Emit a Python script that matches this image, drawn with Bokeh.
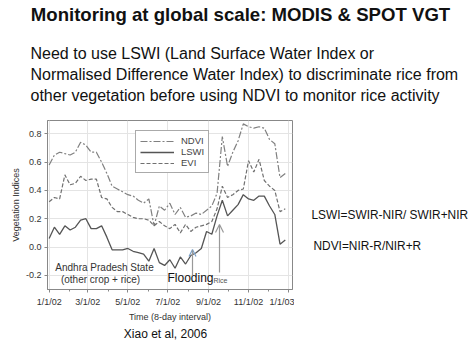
from bokeh.plotting import figure
from bokeh.layouts import column, row
from bokeh.models import (Range1d, FixedTicker, Label, Arrow, OpenHead, Legend, LegendItem)
from bokeh.embed import file_html
from bokeh.resources import INLINE

# ---- data (8-day composites through 2002; day 0 = 1 Jan 2002) ----
days = [8 * i for i in range(46)]
ndvi = [0.58, 0.65, 0.67, 0.66, 0.65, 0.67, 0.74, 0.72, 0.67, 0.67,
        0.60, 0.52, 0.43, 0.41, 0.39, 0.37, 0.36, 0.33, 0.31, 0.34,
        0.15, 0.29, 0.26, 0.31, 0.23, 0.28, 0.21, 0.22, 0.24, 0.23,
        0.26, 0.29, 0.38, 0.78, 0.57, 0.67, 0.75, 0.87, 0.85, 0.84,
        0.85, 0.84, 0.76, 0.73, 0.49, 0.52]
lswi = [0.06, 0.14, 0.09, 0.15, 0.12, 0.14, 0.19, 0.20, 0.13, 0.13,
        0.15, 0.07, -0.02, -0.02, -0.02, -0.01, -0.03, -0.04, -0.05, -0.10,
        -0.01, -0.11, -0.13, -0.09, -0.15, -0.07, -0.12, -0.06, -0.04, -0.01,
        0.11, 0.09, 0.22, 0.33, 0.22, 0.26, 0.30, 0.37, 0.34, 0.33,
        0.36, 0.36, 0.29, 0.23, 0.02, 0.05]
evi = [0.32, 0.35, 0.34, 0.51, 0.44, 0.45, 0.50, 0.47, 0.48, 0.48,
       0.35, 0.34, 0.28, 0.25, 0.25, 0.23, 0.21, 0.20, 0.20, 0.19,
       0.15, 0.18, 0.15, 0.13, 0.16, 0.10, 0.16, 0.11, 0.14, 0.15,
       0.16, 0.18, 0.27, 0.43, 0.35, 0.37, 0.40, 0.41, 0.61, 0.53,
       0.62, 0.47, 0.43, 0.40, 0.25, 0.27]
tick_days = [0, 59, 120, 181, 243, 304, 365]
tick_labels = ["1/1/02", "3/1/02", "5/1/02", "7/1/02", "9/1/02", "11/1/02", "1/1/03"]
month_days = [0, 31, 59, 90, 120, 151, 181, 212, 243, 273, 304, 334, 365]
y_ticks = [-0.2, 0.0, 0.2, 0.4, 0.6, 0.8]

FONT = "Liberation Sans"
W, H = 474, 355
TOP_H = 120          # text band above the chart
MID_B = 328          # bottom edge of chart row (canvas px)
CH_W = 294           # chart figure width
FL, FR = 47, 292     # frame left / right (canvas px)
FT, FB = 120, 289    # frame top / bottom (canvas px)
X0, X1 = -2.5, 371.0
Y0, Y1 = -0.3, 0.894


def text_fig(w, h, top=0, bottom=0):
    f = figure(width=w, height=h, output_backend="svg", toolbar_location=None,
               x_range=Range1d(0, w), y_range=Range1d(h - top - bottom, 0),
               min_border_left=0, min_border_right=0,
               min_border_top=top, min_border_bottom=bottom,
               x_axis_type=None, y_axis_type=None)
    f.xgrid.visible = False
    f.ygrid.visible = False
    f.outline_line_color = None
    f.background_fill_color = "white"
    f.border_fill_color = "white"
    return f


def put(f, x, y, text, size, bold=False, align="left", color="#111111"):
    f.add_layout(Label(x=x, y=y, text=text, text_font=FONT,
                       text_font_size=f"{size}px", text_color=color,
                       text_font_style="bold" if bold else "normal",
                       text_align=align, text_baseline="middle"))


# ---- top text band ----
top = text_fig(W, TOP_H)
put(top, 240, 14, "Monitoring at global scale: MODIS & SPOT VGT", 18.6, bold=True, align="center")
put(top, 30, 53, "Need to use LSWI (Land Surface Water Index or", 16)
put(top, 30, 74, "Normalised Difference Water Index) to discriminate rice from", 16)
put(top, 30, 95, "other vegetation before using NDVI to monitor rice activity", 16)

# ---- chart ----
mid_h = MID_B - TOP_H
p = figure(width=CH_W, height=mid_h, output_backend="svg", toolbar_location=None,
           x_range=Range1d(X0, X1), y_range=Range1d(Y0, Y1),
           min_border_left=FL, min_border_right=CH_W - FR,
           min_border_top=FT - TOP_H, min_border_bottom=MID_B - FB)
p.background_fill_color = "white"
p.border_fill_color = "white"
p.outline_line_color = "#888888"

p.xaxis.ticker = FixedTicker(ticks=tick_days, minor_ticks=month_days)
p.xaxis.major_label_overrides = {d: l for d, l in zip(tick_days, tick_labels)}
p.yaxis.ticker = FixedTicker(ticks=y_ticks)
p.yaxis.major_label_overrides = {v: f"{v:.1f}" for v in y_ticks}
for ax in (p.xaxis[0], p.yaxis[0]):
    ax.major_label_text_font = FONT
    ax.major_label_text_font_size = "9px"
    ax.major_label_text_color = "#333333"
    ax.axis_label_text_font = FONT
    ax.axis_label_text_font_size = "9px"
    ax.axis_label_text_font_style = "normal"
    ax.axis_label_text_color = "#333333"
    ax.axis_line_color = "#888888"
    ax.major_tick_line_color = "#888888"
    ax.minor_tick_line_color = "#888888"
    ax.major_tick_in = 0
    ax.major_tick_out = 3
    ax.minor_tick_in = 0
    ax.minor_tick_out = 2
    ax.axis_label_standoff = 2
p.xaxis.axis_label = "Time (8-day interval)"
p.yaxis.axis_label = "Vegetation Indices"
p.xaxis.major_label_standoff = 4
p.yaxis.major_label_standoff = 3
p.xgrid.grid_line_color = "#e4e4e4"
p.ygrid.grid_line_color = "#e4e4e4"

r_ndvi = p.line(days, ndvi, line_color="#808080", line_width=1.2, line_dash="7 2 2 2")
r_lswi = p.line(days, lswi, line_color="#555555", line_width=1.3)
r_evi = p.line(days, evi, line_color="#707070", line_width=1.2, line_dash="4 2")

legend = Legend(items=[LegendItem(label="NDVI", renderers=[r_ndvi]),
                       LegendItem(label="LSWI", renderers=[r_lswi]),
                       LegendItem(label="EVI", renderers=[r_evi])],
                location=(88, 116))
legend.label_text_font = FONT
legend.label_text_font_size = "9.5px"
legend.label_text_color = "#444444"
legend.glyph_width = 34
legend.glyph_height = 10
legend.label_height = 10
legend.spacing = 0
legend.padding = 4
legend.margin = 0
legend.label_standoff = 7
legend.border_line_color = "#555555"
legend.background_fill_alpha = 1.0
p.add_layout(legend)


def X(px):
    return X0 + (px - FL) / (FR - FL) * (X1 - X0)


def Y(py):
    return Y1 - (py - FT) / (FB - FT) * (Y1 - Y0)


put(p, X(104), Y(267), "Andhra Pradesh State", 10, align="center", color="#333333")
put(p, X(100), Y(279), "(other crop + rice)", 10, align="center", color="#333333")
put(p, X(167), Y(277), "Flooding", 12)
put(p, X(213), Y(280), "Rice", 7, color="#555555")

p.add_layout(Arrow(end=OpenHead(size=7, line_color="#7aa0c8", line_width=1.2),
                   x_start=X(192), y_start=Y(275), x_end=X(192), y_end=Y(249),
                   line_color="#999999", line_width=1.2))
p.add_layout(Arrow(end=OpenHead(size=8, line_color="#999999", line_width=1.2),
                   x_start=X(219), y_start=Y(272), x_end=X(219), y_end=Y(224),
                   line_color="#999999", line_width=1.2))

# ---- right text band (frame matches the chart frame: canvas y 120..289) ----
right = text_fig(W - CH_W, mid_h, top=FT - TOP_H, bottom=MID_B - FB)
put(right, 311 - CH_W, 214 - FT, "LSWI=SWIR-NIR/ SWIR+NIR", 11.9)
put(right, 313 - CH_W, 245 - FT, "NDVI=NIR-R/NIR+R", 11.9)

# ---- bottom caption ----
bot = text_fig(W, H - MID_B)
put(bot, 165, 333 - MID_B, "Xiao et al, 2006", 12, align="center")

layout = column(top, row(p, right, spacing=0), bot, spacing=0)
open("out.html", "w").write(file_html(layout, INLINE))
